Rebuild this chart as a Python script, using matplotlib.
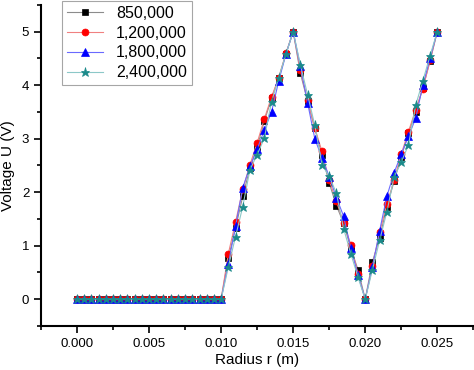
import numpy as np
import matplotlib
matplotlib.use('Agg')
import matplotlib.pyplot as plt
from matplotlib.ticker import MultipleLocator, FormatStrFormatter

plt.rcParams['font.family'] = ['Liberation Sans', 'DejaVu Sans']

# radius positions (m)
radius = [0.0000, 0.0005, 0.0010, 0.0015, 0.0020, 0.0025, 0.0030, 0.0035, 0.0040,
          0.0045, 0.0050, 0.0055, 0.0060, 0.0065, 0.0070, 0.0075, 0.0080, 0.0085,
          0.0090, 0.0095, 0.0100,
          0.0105, 0.0110, 0.0115, 0.0120, 0.0125, 0.0130, 0.0135, 0.0140, 0.0145, 0.0150,
          0.0155, 0.0160, 0.0165, 0.0170, 0.0175, 0.0180, 0.0185, 0.0190, 0.0195, 0.0200,
          0.0205, 0.0210, 0.0215, 0.0220, 0.0225, 0.0230, 0.0235, 0.0240, 0.0245, 0.0250]

zeros = [0.0] * 21

u_850k = zeros + [0.77, 1.33, 1.92, 2.45, 2.84, 3.33, 3.75, 4.14, 4.58, 5.00,
                  4.22, 3.70, 3.19, 2.70, 2.17, 1.75, 1.42, 0.95, 0.55, 0.00,
                  0.70, 1.14, 1.73, 2.20, 2.66, 3.10, 3.50, 3.95, 4.45, 5.00]
u_1200k = zeros + [0.85, 1.44, 2.05, 2.51, 2.92, 3.37, 3.78, 4.14, 4.60, 5.00,
                   4.28, 3.72, 3.20, 2.76, 2.22, 1.83, 1.43, 1.02, 0.47, 0.00,
                   0.62, 1.25, 1.77, 2.22, 2.71, 3.13, 3.54, 3.93, 4.46, 5.00]
u_1800k = zeros + [0.66, 1.36, 2.08, 2.48, 2.80, 3.16, 3.50, 4.08, 4.58, 5.00,
                   4.35, 3.67, 3.00, 2.64, 2.29, 1.90, 1.55, 0.95, 0.45, 0.00,
                   0.60, 1.28, 1.92, 2.36, 2.71, 3.04, 3.38, 4.00, 4.50, 5.00]
u_2400k = zeros + [0.60, 1.17, 1.73, 2.42, 2.70, 3.01, 3.69, 4.14, 4.58, 5.00,
                   4.38, 3.82, 3.25, 2.51, 2.30, 1.98, 1.32, 0.85, 0.41, 0.00,
                   0.55, 1.10, 1.63, 2.28, 2.56, 2.88, 3.62, 4.08, 4.55, 5.00]

labels = ['850,000', '1,200,000', '1,800,000', '2,400,000']
series = [u_850k, u_1200k, u_1800k, u_2400k]

#(marker, marker colour, line colour, marker size)
styles = [('s', 'black', '#8c8c8c', 4.5),
          ('o', 'red', '#f08080', 5),
          ('^', 'blue', '#6a6aff', 5.5),
          ('*', '#1b8a8a', '#8cc8c8', 6.5)]

fig = plt.figure(figsize=(4.74, 3.70), dpi=100)
ax = fig.add_axes([0.0865, 0.119, 0.912, 0.868])

for vals, lab, (mk, mc, lc, ms) in zip(series, labels, styles):
    ax.plot(radius, vals, color=lc, lw=0.8, marker=mk, markersize=ms,
            markerfacecolor=mc, markeredgecolor=mc, markeredgewidth=0.5, label=lab)

ax.set_xlim(-0.0025, 0.0275)
ax.set_ylim(-0.5, 5.5)
ax.xaxis.set_major_locator(MultipleLocator(0.005))
ax.xaxis.set_minor_locator(MultipleLocator(0.0025))
ax.xaxis.set_major_formatter(FormatStrFormatter('%.3f'))
ax.yaxis.set_major_locator(MultipleLocator(1))
ax.yaxis.set_minor_locator(MultipleLocator(0.5))

for s in ['top', 'right']:
    ax.spines[s].set_visible(False)
for s in ['left', 'bottom']:
    ax.spines[s].set_linewidth(1.5)
ax.tick_params(which='major', length=5, width=1.2, labelsize=9.5, direction='out')
ax.tick_params(which='minor', length=3, width=1.2, direction='out')

ax.set_xlabel('Radius r (m)', fontsize=11, labelpad=2)
ax.set_ylabel('Voltage U (V)', fontsize=11, labelpad=5)

leg = ax.legend(loc='upper left', bbox_to_anchor=(0.048, 1.012), fontsize=11.5,
                frameon=True, fancybox=False, edgecolor='#909090', handlelength=2.3,
                borderpad=0.3, labelspacing=0.3, handletextpad=0.8, borderaxespad=0)
leg.get_frame().set_linewidth(0.8)

fig.savefig('out.png', dpi=100)
